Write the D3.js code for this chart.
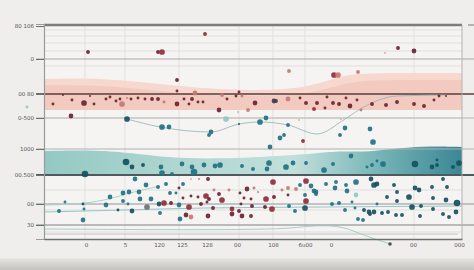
<!DOCTYPE html>
<html><head><meta charset="utf-8">
<script src="https://cdn.jsdelivr.net/npm/d3@7"></script>
<style>html,body{margin:0;padding:0;background:#efeeec;}svg{display:block;}</style>
</head><body>
<script>
// ---------- data ----------
const xTickValues = [21, 40.5, 57.5, 69, 81.5, 96.5, 114.5, 130.5, 143.5, 184.5, 207.5];
const xTickLabels = ["0", "5", "120", "125", "128", "00", "108", "6u00", "0", "00", "000"];
const yTickValues = [106.5, 90, 72.5, 60.5, 45, 32, 17.5, 7];
const yTickLabels = ["80 106", "0", "00 80", "0-500", "1000", "00.500", "00", "30"];
const gridY = [104.5, 101.5, 98, 94, 86.5, 60.5, 24.5, 14.5, 3.5];
const gridX = [20.5, 40.5, 67.5, 97.5, 114.5, 130.5, 185];

const bandX = [0, 18, 38, 58, 78, 98, 118, 133, 143, 153, 168, 188, 209];
const pinkUpper = [80, 80.5, 79.5, 77.5, 75.5, 74.5, 74.5, 76.5, 79.5, 82.5, 83, 83, 83];
const pinkInner = [77, 77, 76, 74, 72, 71.5, 71.5, 73, 75.5, 78.5, 79.5, 79.5, 79.5];
const pinkLower = [64.5, 64.5, 64.5, 64.5, 64.5, 64.5, 64.5, 64.5, 64.5, 64.5, 64.5, 64.5, 64.5];
const tealX = [0, 28, 43, 63, 88, 118, 138, 148, 163, 178, 193, 209];
const tealUpper = [44, 44.5, 43, 40.5, 40, 41.5, 43, 44, 43.5, 45.5, 46.5, 46];
const tealLower = 32;

// [x, y, size, group]
const upperRedDots = [
 [22,93.5,2,"m"],[4.5,67.5,1.5,"m"],[14,69.5,1.5,"m"],[20,68,3,"m"],[25,67.5,1.5,"m"],[13.5,61.5,2.5,"m"],
 [39,67.5,3,"p"],[9.5,72,1,"m"],[23,71.5,1,"m"],[31,70,1.5,"m"],[33,71,1.5,"m"],[36,69,1.5,"m"],[38,70,1.5,"m"],
 [41.5,70.5,1,"p"],[43.5,70,1.5,"m"],[47,70.5,1.5,"m"],[50.5,70,1.5,"m"],[54,70,2,"m"],[57,70,2,"m"],
 [57,93.5,2,"m"],[80.5,102.5,2,"r"],[59,93.5,3,"r"],[66.5,79.5,2,"m"],[66.5,74,1.5,"m"],[70,70,1.5,"m"],
 [74,70,2,"m"],[77,68.5,1.5,"m"],[79.5,68.5,1.5,"m"],[72.5,67.5,1.5,"m"],[66.5,67.5,2.5,"m"],[60,68.5,1.5,"p"],
 [75.5,73,2.5,"p"],[89,72,2,"p"],[91.5,70,1.5,"m"],[96,71.5,1.5,"m"],[97.5,73.5,1.5,"m"],[99,71.5,1.5,"p"],
 [87.5,64.5,2.5,"m"],[102,64.5,2,"p"],[105.5,68,2.5,"m"],[115,69,2.5,"d"],[116,69,2,"d"],[122,70,2.5,"p"],
 [128,70.5,1.5,"m"],[131,68,2,"m"],[136.5,68,2,"m"],[135,65,2,"r"],[122.5,84,2,"p"],[177,95.5,2,"m"],
 [185,94,2.5,"m"],[170.5,93,1,"lp"],[145,82,3,"r"],[147,82,3,"p"],[157,83.5,2,"p"],[140.5,65.5,1.5,"m"],
 [141.5,71,1.5,"m"],[144.5,68,2,"m"],[147.5,67.5,2,"m"],[151,70.5,1.5,"m"],[153,66.5,2.5,"m"],[156.5,69.5,1.5,"m"],
 [164,67.5,2,"m"],[171,67,2,"m"],[176.5,68.5,2,"m"],[185,67.5,2,"m"],[190,66.5,2,"m"],[195,69.5,1.5,"m"],
 [197.5,71.5,1.5,"m"],[201,71.5,1,"m"],[158.5,64.5,1.5,"p"],[127.5,59.5,1,"lp"]
];
const upperTealDots = [
 [41.5,60,3,"dt"],[-8.5,66,1.5,"lt"],[91,60,3,"lt"],[97,63.5,1,"lt"],[97.5,57.5,1,"dt"],[108,58.5,3,"t"],
 [111,60.5,2.5,"t"],[122,57,2,"t"],[83.5,53.5,2.5,"t"],[59,56,3,"t"],[62.5,56,2.5,"t"],[150.5,55.5,2.5,"t"],
 [163,55,2.5,"t"],[148.5,60,1,"lp"],[82.5,52,2,"t"],[113,46,2.5,"t"],[118,50.5,2.5,"t"],[120,52,2,"t"],
 [129.5,49,2,"r"],[148,52,2,"t"],[164.5,48.5,3,"t"],[153.5,41.5,2.5,"t"]
];
const bandTealDots = [
 [20.5,32.5,3.5,"dt"],[41,38.5,3.5,"dt"],[44,36,2.5,"dt"],[49.5,37,2,"dt"],[69,37.5,2.5,"t"],[74,36,2.5,"t"],
 [75,33.5,3.5,"t"],[80,37,2.5,"t"],[85.5,36.5,2.5,"t"],[88,37,3,"t"],[99,36.5,2,"t"],[104.5,35,2,"t"],
 [111.5,35,2.5,"t"],[112.5,38,3,"t"],[121,36,3,"t"],[124.5,38,2.5,"t"],[131,38,2,"t"],[58.5,36,2.5,"t"],
 [59,33,3,"t"],[64,32.5,2,"t"],[140,34.5,3,"t"],[144.5,37.5,2,"t"],[161.5,36,1.5,"t"],[164,37,2,"t"],
 [166.5,39,1.5,"t"],[169.5,37.5,3,"t"],[185.5,37.5,3.5,"dt"],[194,36,2.5,"dt"],[196.5,37,2,"dt"],
 [196.5,39.5,1.5,"dt"],[204.5,36,2,"dt"],[207.5,38,3,"dt"]
];
const lowerDots = [
 [45.5,30,2.5,"t"],[51,27,2.5,"t"],[57,26,2,"t"],[33,21,2.5,"t"],[39.5,23,2.5,"t"],[42.5,23.5,2.5,"t"],
 [47.5,23.5,2.5,"t"],[39.5,19,2,"t"],[48,20,2.5,"t"],[53.5,20,2.5,"t"],[51.5,16,3,"g"],[57.5,17.5,2.5,"dt"],
 [42,17.5,1.5,"t"],[31,17,2.5,"t"],[19.5,17.5,1.5,"dt"],[10.5,18.5,1.5,"t"],[7.5,14,2,"t"],[20,15,1.5,"t"],
 [19.5,9.5,2.5,"t"],[37,14.5,1.5,"dt"],[44,14,2.5,"dt"],
 [61,27.5,2,"t"],[69.5,27.5,2,"t"],[73.5,30,1,"lp"],[77.5,30,1,"p"],[82,30,2,"m"],[67.5,25.5,1.5,"m"],
 [63,23,2,"t"],[66,23,1.5,"t"],[73.5,21.5,1.5,"m"],[69.5,20.5,1.5,"m"],[77,21,1.5,"m"],[81,21.5,3,"r"],
 [82.5,20,2,"m"],[85,24.5,1.5,"p"],[87.5,22.5,2,"m"],[89,19.5,3,"r"],[92.5,24.5,1.5,"p"],[98,23,1.5,"m"],
 [101.5,25,2.5,"m"],[105,25.5,1.5,"p"],[107,23.5,1,"p"],[100,20.5,1.5,"m"],[103.5,20,1.5,"m"],[111,20,3,"r"],
 [115,21,2,"m"],[114.5,28.5,3,"r"],[119,24.5,1.5,"p"],[122,25.5,2,"p"],[122,22,1.5,"m"],[126,25,2,"p"],
 [131,29,3,"r"],[128,27,2,"t"],[130.5,22,2,"t"],[131,19,3,"r"],[133.5,26.5,2.5,"t"],[135,24,2.5,"t"],
 [136,23.5,2.5,"t"],[60,18,3,"r"],[63.5,18,2,"m"],[67.5,17,2.5,"t"],[72.5,16,3,"r"],[78.5,17.5,2,"m"],
 [81.5,18.5,1.5,"m"],[84.5,15.5,2,"m"],[94,15,2.5,"r"],[97.5,14,2,"m"],[98.5,17.5,1.5,"m"],[104,16.5,2,"m"],
 [110.5,16,2,"m"],[114,15,3,"r"],[122.5,16.5,2,"t"],[130.5,15.5,3,"dt"],[125.5,14,2,"t"],[58,13,2,"t"],
 [71,12,2.5,"m"],[73.5,11,2.5,"p"],[82,11.5,2.5,"m"],[94,12.5,2.5,"m"],[99,11.5,2.5,"m"],[103.5,11.5,2,"m"],
 [68,10,2.5,"t"],
 [141,27.5,2,"t"],[146,28.5,2,"t"],[151,27,2,"t"],[145.5,25.5,2.5,"t"],[151.5,24,2.5,"t"],[156,28.5,3,"t"],
 [156,22,2.5,"lt"],[163.5,30,2.5,"dt"],[165,27,3,"dt"],[166.5,27.5,2.5,"dt"],[175,27,2,"dt"],[176.5,23.5,2,"dt"],
 [171.5,21,2,"dt"],[176.5,19,2,"dt"],[182.5,21,3,"dt"],[185.5,25.5,2.5,"dt"],[187.5,24.5,2.5,"dt"],
 [194,26,2,"dt"],[194.5,20.5,2,"dt"],[199.5,30,2,"dt"],[201.5,26,2,"dt"],[201,19.5,2.5,"dt"],[206.5,18,3.5,"dt"],
 [184,16,3,"dt"],[188.5,16.5,2,"dt"],[194.5,15,2,"dt"],[206,13.5,2.5,"dt"],[199.5,12.5,2,"dt"],[202.5,11,2,"dt"],
 [188,11.5,2,"dt"],[179,12,2,"dt"],[176,12,2,"dt"],[172,13.5,2,"dt"],[169,13,2,"dt"],[165,13.5,2.5,"dt"],
 [162.5,13.5,2.5,"dt"],[163,12.5,2,"dt"],[160,14.5,2,"dt"],[157,10,2,"t"],[159.5,9.5,2,"t"],[150.5,14.5,2,"t"],
 [155.5,15.5,1.5,"t"],[144,17.5,2,"t"],[147.5,18,2,"t"],[154,18.5,1.5,"t"],[166.5,17.5,1.5,"t"],[136,22.5,2,"t"],
 [173,-2.5,1.8,"d"]
];

// thin trend lines
const upperTrend = [[41.5,60],[58,56],[83.5,53.5],[97.5,57.5],[108,58.5],[122,57],[136.5,52.5],[150.5,60],[159,65.5],[176.5,71.5],[201,72]];
const lowerCurveA = [[0,17],[15,17.5],[30,19.5],[45,23.5],[58,26.5]];
const lowerLineB = [[0,13.5],[40,14.5],[80,15.5],[140,16],[209,16.5]];
const bottomCurve = [[0,5],[78,4.5],[123,5],[130.5,6.5],[148,7],[158,2.5],[173,-2.5]];
const bottomLine = [[0,2.5],[207,2.5]];

// ---------- drawing ----------
const W = 474, H = 270;
const svg = d3.select("body").append("svg").attr("width", W).attr("height", H);
const x = d3.scaleLinear().domain([0, 209]).range([44, 462]);
const y = d3.scaleLinear().domain([0, 107.5]).range([239, 24]);
const r = d3.scaleLinear().domain([1, 3.5]).range([1, 3.3]);
const color = d3.scaleOrdinal()
  .domain(["m","r","p","lp","d","t","dt","lt","g"])
  .range(["#6c2232","#8f2d3b","#c27a75","#dca9a2","#3d3f4b","#1f7283","#16505f","#93c8c3","#6c7173"]);

const defs = svg.append("defs");
const bg = defs.append("linearGradient").attr("id","shadow").attr("x1",0).attr("y1",0).attr("x2",0).attr("y2",1);
bg.append("stop").attr("offset","0%").attr("stop-color","#e6e5e2");
bg.append("stop").attr("offset","100%").attr("stop-color","#c3c2bf");
const tg = defs.append("linearGradient").attr("id","teal").attr("x1",0).attr("y1",0).attr("x2",1).attr("y2",0);
[["0%","#93c9c3"],["35%","#b2d7d2"],["60%","#c2dfdb"],["78%","#7db9ba"],["100%","#3a8795"]]
  .forEach(s => tg.append("stop").attr("offset", s[0]).attr("stop-color", s[1]));

svg.append("rect").attr("width", W).attr("height", H).attr("fill", "#efeeec");
svg.append("rect").attr("x", 0).attr("y", 258).attr("width", W).attr("height", 12).attr("fill", "url(#shadow)");
svg.append("rect").attr("x", x(0)).attr("y", y(107.5)).attr("width", x(209)-x(0)).attr("height", y(0)-y(107.5)).attr("fill", "#f5f4f2");

// gridlines
svg.append("g").selectAll("line").data(gridY).join("line")
  .attr("x1", x(0)).attr("x2", x(209)).attr("y1", d => y(d)).attr("y2", d => y(d))
  .attr("stroke", "#e0dfdd").attr("stroke-width", 1);
svg.append("g").selectAll("line").data(gridX).join("line")
  .attr("x1", d => x(d)).attr("x2", d => x(d)).attr("y1", y(107)).attr("y2", y(0))
  .attr("stroke", "#e2e1df").attr("stroke-width", 1);

// bands
const pinkArea = d3.area().x((d,i) => x(bandX[i])).y0((d,i) => y(pinkLower[i])).y1(d => y(d)).curve(d3.curveBasis);
svg.append("path").datum(pinkUpper).attr("d", pinkArea).attr("fill", "#f6d8ce");
svg.append("path").datum(pinkInner).attr("d", pinkArea).attr("fill", "#f2c6ba").attr("opacity", 0.75);
const tealArea = d3.area().x((d,i) => x(tealX[i])).y0(y(tealLower)).y1(d => y(d)).curve(d3.curveBasis);
svg.append("path").datum(tealUpper).attr("d", tealArea).attr("fill", "url(#teal)");

// reference lines
const refLines = [
  {v:72.5, c:"#5b3b3d", w:1.5, x0:36, x1:474},
  {v:32, c:"#4e5a5e", w:2.2, x0:36, x1:474},
  {v:17.5, c:"#8f9594", w:1.2, x0:36, x1:474},
  {v:7, c:"#7f8282", w:1.2, x0:36, x1:474},
  {v:90, c:"#a9a9a9", w:1, x0:36, x1:474},
  {v:60.5, c:"#b5b5b5", w:1, x0:36, x1:474},
  {v:45, c:"#b0b0b0", w:1, x0:36, x1:474}
];
svg.append("g").selectAll("line").data(refLines).join("line")
  .attr("x1", d => d.x0).attr("x2", d => d.x1).attr("y1", d => y(d.v)).attr("y2", d => y(d.v))
  .attr("stroke", d => d.c).attr("stroke-width", d => d.w);

// thin lines
const line = d3.line().x(d => x(d[0])).y(d => y(d[1])).curve(d3.curveMonotoneX);
svg.append("path").datum(upperTrend).attr("d", line).attr("fill","none").attr("stroke","#8fb3b6").attr("stroke-width",0.8);
svg.append("path").datum(lowerCurveA).attr("d", line).attr("fill","none").attr("stroke","#a9d3cc").attr("stroke-width",1);
svg.append("path").datum(lowerLineB).attr("d", line).attr("fill","none").attr("stroke","#8bbfc4").attr("stroke-width",0.9);
svg.append("path").datum(bottomCurve).attr("d", d3.line().x(d => x(d[0])).y(d => y(d[1])).curve(d3.curveBasis)).attr("fill","none").attr("stroke","#9fc8c6").attr("stroke-width",0.9);
svg.append("path").datum(bottomLine).attr("d", line).attr("fill","none").attr("stroke","#b9bcbc").attr("stroke-width",0.9);

// frame
svg.append("line").attr("x1", x(0)).attr("x2", x(209)).attr("y1", y(107)).attr("y2", y(107)).attr("stroke", "#7c7c7c").attr("stroke-width", 2.5);
svg.append("line").attr("x1", 468).attr("x2", 474).attr("y1", y(107)).attr("y2", y(107)).attr("stroke", "#777").attr("stroke-width", 1);
svg.append("line").attr("x1", x(209)).attr("x2", x(209)).attr("y1", y(107)).attr("y2", y(0)).attr("stroke", "#b3b3b3").attr("stroke-width", 1);

// dots
const allDots = [...upperRedDots, ...upperTealDots, ...bandTealDots, ...lowerDots];
svg.append("g").selectAll("circle").data(allDots).join("circle")
  .attr("cx", d => x(d[0])).attr("cy", d => y(d[1])).attr("r", d => r(d[2]))
  .attr("fill", d => color(d[3])).attr("opacity", 0.92);

// axes
const yAxis = d3.axisLeft(y).tickValues(yTickValues).tickFormat((d,i) => yTickLabels[i]).tickSize(8).tickPadding(2);
const gy = svg.append("g").attr("transform", `translate(${x(0)},0)`).call(yAxis);
gy.select(".domain").attr("stroke", "#9a9a9a").attr("stroke-width", 1.2);
gy.selectAll(".tick line").attr("stroke", "#6e6e6e");
gy.selectAll("text").attr("font-family", "DejaVu Sans, sans-serif").attr("font-size", 5.5).attr("fill", "#555");

const xAxis = d3.axisBottom(x).tickValues(xTickValues).tickFormat((d,i) => xTickLabels[i]).tickSize(0).tickPadding(4);
const gx = svg.append("g").attr("transform", `translate(0,${y(0)})`).call(xAxis);
gx.select(".domain").attr("stroke", "#6f6f6f").attr("stroke-width", 1.5);
gx.selectAll("text").attr("font-family", "DejaVu Sans, sans-serif").attr("font-size", 5.5).attr("fill", "#555");
</script>
</body></html>
